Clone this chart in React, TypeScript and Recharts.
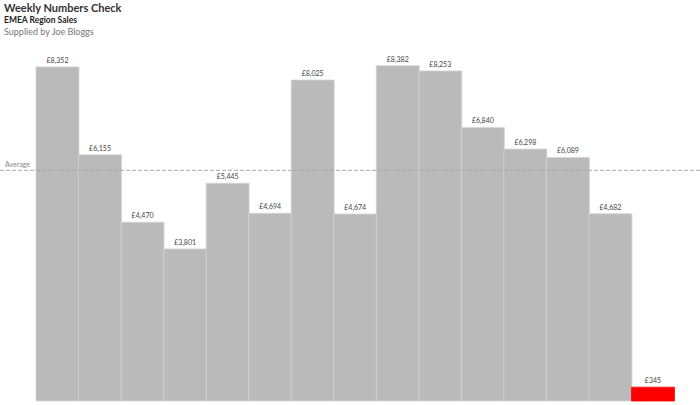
import { Bar, BarChart, Cell, LabelList, ReferenceLine, XAxis, YAxis } from 'recharts'

const weeks = ['W1', 'W2', 'W3', 'W4', 'W5', 'W6', 'W7', 'W8', 'W9', 'W10', 'W11', 'W12', 'W13', 'W14', 'W15']
const sales = [8352, 6155, 4470, 3801, 5445, 4694, 8025, 4674, 8382, 8253, 6840, 6298, 6089, 4682, 345]

const data = weeks.map((week, i) => ({ week, sales: sales[i] }))
const average = sales.reduce((a, b) => a + b, 0) / sales.length

const font = 'Lato, "Open Sans", sans-serif'

function formatPounds(value: number) {
  return `£${Number(value).toLocaleString('en-GB')}`
}

function AverageLine(props: { y1?: number }) {
  const y = props.y1 ?? 0
  return (
    <g>
      <line x1={0} x2={700} y1={y} y2={y} stroke="#a9a9a9" strokeWidth={1} strokeDasharray="4 2" />
      <text x={5} y={y - 3} fontSize={7} fill="#888" fontFamily={font}>
        Average
      </text>
    </g>
  )
}

export default function App() {
  return (
    <div style={{ position: 'absolute', left: 0, top: 0, width: 700, height: 405, background: '#fff', fontFamily: font }}>
      <div style={{ position: 'absolute', left: 4, top: 1, fontSize: 11, fontWeight: 700, color: '#333' }}>
        Weekly Numbers Check
      </div>
      <div style={{ position: 'absolute', left: 4, top: 15, fontSize: 8.5, fontWeight: 700, color: '#222' }}>
        EMEA Region Sales
      </div>
      <div style={{ position: 'absolute', left: 4, top: 26, fontSize: 9, color: '#777' }}>
        Supplied by Joe Bloggs
      </div>
      <BarChart
        width={700}
        height={405}
        data={data}
        margin={{ top: 41, right: 26, bottom: 4, left: 36 }}
        barCategoryGap={0}
        style={{ position: 'absolute', left: 0, top: 0 }}
      >
        <XAxis dataKey="week" tick={false} tickLine={false} height={0} axisLine={{ stroke: '#e8e8e8' }} />
        <YAxis hide domain={[0, 9000]} />
        <ReferenceLine y={average} shape={AverageLine} />
        <Bar dataKey="sales" isAnimationActive={false} stroke="#d6d6d6" strokeWidth={0.8}>
          {data.map((d, i) => (
            <Cell key={d.week} fill={i === data.length - 1 ? '#ff0000' : '#bababa'} stroke={i === data.length - 1 ? '#ff0000' : '#d6d6d6'} />
          ))}
          <LabelList
            dataKey="sales"
            position="top"
            offset={4}
            formatter={(v: number) => formatPounds(v)}
            style={{ fontSize: 7, fill: '#444', fontFamily: font }}
          />
        </Bar>
      </BarChart>
    </div>
  )
}
